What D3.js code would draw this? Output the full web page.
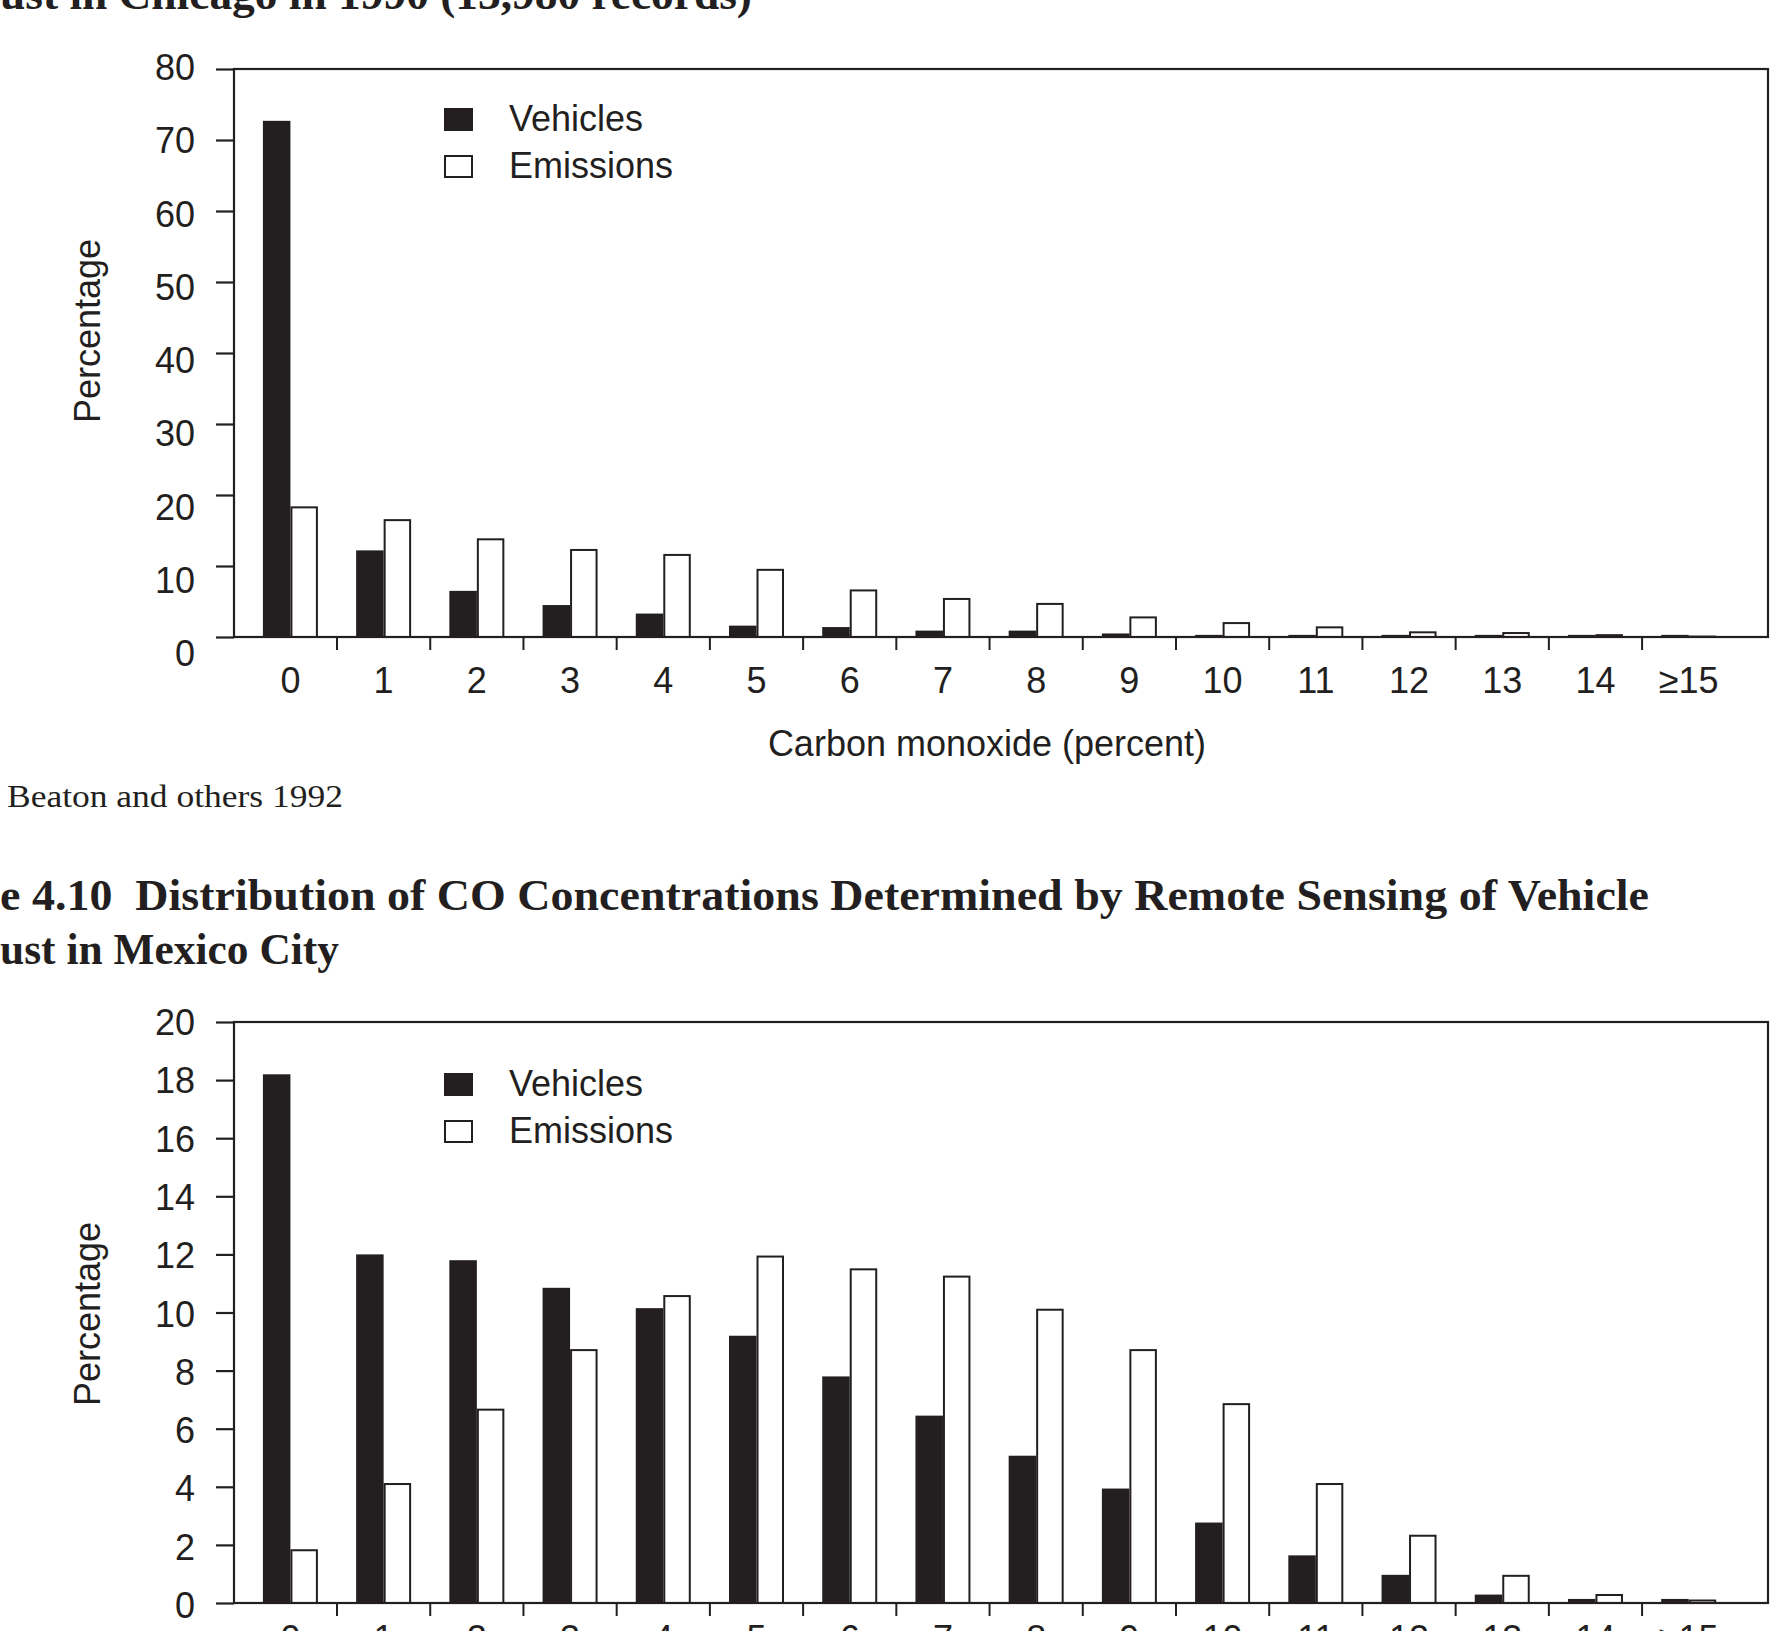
<!DOCTYPE html>
<html>
<head>
<meta charset="utf-8">
<script src="https://cdn.jsdelivr.net/npm/d3@7"></script>
<style>
  body { margin: 0; background: #fff; }
  text { fill: #231f20; }
</style>
</head>
<body>
<div id="chart"></div>
<script>
// categories on the x axis (CO percent)
var CATEGORIES = ['0', '1', '2', '3', '4', '5', '6', '7', '8', '9', '10',
                  '11', '12', '13', '14', '\u226515'];
var SERIES = ['Vehicles', 'Emissions'];

// Chicago 1990
var CHICAGO_VEHICLES  = [72.7, 12.2, 6.5, 4.5, 3.3, 1.6, 1.4, 0.9, 0.9, 0.5, 0.3, 0.3, 0.3, 0.3, 0.3, 0.3];
var CHICAGO_EMISSIONS = [18.4, 16.6, 13.9, 12.4, 11.7, 9.6, 6.7, 5.5, 4.8, 2.9, 2.1, 1.5, 0.8, 0.7, 0.4, 0.2];
var CHICAGO_TICKS = [0, 10, 20, 30, 40, 50, 60, 70, 80];

// Mexico City
var MEXICO_VEHICLES  = [18.2, 12.0, 11.8, 10.85, 10.15, 9.2, 7.8, 6.45, 5.07, 3.94, 2.77, 1.64, 0.97, 0.29, 0.14, 0.14];
var MEXICO_EMISSIONS = [1.85, 4.13, 6.69, 8.74, 10.6, 11.96, 11.52, 11.27, 10.13, 8.74, 6.88, 4.13, 2.35, 0.97, 0.31, 0.12];
var MEXICO_TICKS = [0, 2, 4, 6, 8, 10, 12, 14, 16, 18, 20];

var WIDTH = 1775,
    HEIGHT = 1631;

var INK = '#231f20';
var SANS = '"Liberation Sans", Arial, Helvetica, sans-serif';
var SERIF = '"Liberation Serif", "Times New Roman", serif';

var svg = d3.select('#chart').append('svg')
            .attr('width', WIDTH)
            .attr('height', HEIGHT)
            .style('display', 'block');

svg.append('rect').attr('width', WIDTH).attr('height', HEIGHT).attr('fill', '#fff');

// shared horizontal layout for both panels
var BOX_LEFT = 234, BOX_RIGHT = 1768;
var xScale = d3.scaleBand().domain(CATEGORIES).range([243.8, 1735.3]).paddingInner(0);
var bw = xScale.bandwidth();
var xInner = d3.scaleBand().domain(SERIES).range([(bw - 55) / 2, (bw + 55) / 2]);

function drawPanel(opts) {
  var g = svg.append('g');
  var y = d3.scaleLinear().domain([0, opts.max]).range([opts.bottom, opts.top]);
  // the printed labels sit a little off the ticks in the source
  var yLab = d3.scaleLinear().domain([0, opts.max]).range(opts.labelRange);

  var rows = CATEGORIES.map((c, i) => ({cat: c, Vehicles: opts.vehicles[i], Emissions: opts.emissions[i]}));

  // y ticks
  var yAxis = g.append('g')
               .attr('transform', `translate(${BOX_LEFT},0)`)
               .call(d3.axisLeft(y).tickValues(opts.ticks).tickSize(18).tickSizeOuter(0).tickFormat(''));
  yAxis.select('.domain').remove();
  yAxis.selectAll('line').attr('stroke', INK).attr('stroke-width', 2.2);

  g.selectAll('.ylab')
   .data(opts.ticks).enter()
   .append('text')
   .attr('class', 'ylab')
   .attr('x', 195)
   .attr('y', d => yLab(d) + 13)
   .attr('text-anchor', 'end')
   .style('font-family', SANS)
   .style('font-size', '36px')
   .text(d => d);

  // bars
  var groups = g.selectAll('.cat')
                .data(rows).enter()
                .append('g')
                .attr('class', 'cat')
                .attr('transform', d => `translate(${xScale(d.cat)},0)`);

  groups.append('rect')
        .attr('x', xInner('Vehicles'))
        .attr('y', d => y(d.Vehicles))
        .attr('width', xInner.bandwidth())
        .attr('height', d => y(0) - y(d.Vehicles))
        .attr('fill', INK);

  groups.append('rect')
        .attr('x', xInner('Emissions') + 1)
        .attr('y', d => y(d.Emissions) + 1)
        .attr('width', xInner.bandwidth() - 2)
        .attr('height', d => Math.max(0, y(0) - y(d.Emissions) - 1))
        .attr('fill', '#fff')
        .attr('stroke', INK)
        .attr('stroke-width', 2);

  // frame
  g.append('rect')
   .attr('x', BOX_LEFT)
   .attr('y', y(opts.max))
   .attr('width', BOX_RIGHT - BOX_LEFT)
   .attr('height', y(0) - y(opts.max))
   .attr('fill', 'none')
   .attr('stroke', INK)
   .attr('stroke-width', 2.2);

  // x ticks at the band edges
  g.selectAll('.xtick')
   .data(CATEGORIES.slice(1)).enter()
   .append('line')
   .attr('x1', d => xScale(d)).attr('x2', d => xScale(d))
   .attr('y1', y(0)).attr('y2', y(0) + 13)
   .attr('stroke', INK)
   .attr('stroke-width', 2);

  g.selectAll('.xlab')
   .data(CATEGORIES).enter()
   .append('text')
   .attr('x', d => xScale(d) + bw / 2)
   .attr('y', y(0) + opts.xLabelDy)
   .attr('text-anchor', 'middle')
   .style('font-family', SANS)
   .style('font-size', '36px')
   .text(d => d);

  g.append('text')
   .attr('transform', `translate(100,${opts.yTitleY}) rotate(-90)`)
   .attr('text-anchor', 'middle')
   .style('font-family', SANS)
   .style('font-size', '36px')
   .text('Percentage');

  if (opts.xTitle) {
    g.append('text')
     .attr('x', 987)
     .attr('y', y(0) + 119)
     .attr('text-anchor', 'middle')
     .style('font-family', SANS)
     .style('font-size', '36px')
     .text(opts.xTitle);
  }

  // legend
  var leg = g.selectAll('.leg')
             .data(SERIES).enter()
             .append('g')
             .attr('transform', (d, i) => `translate(0,${opts.legendBase + i * 47})`);
  leg.append('rect')
     .attr('x', d => d === 'Vehicles' ? 444 : 445)
     .attr('y', d => d === 'Vehicles' ? -23 : -22)
     .attr('width', d => d === 'Vehicles' ? 29 : 27)
     .attr('height', d => d === 'Vehicles' ? 23 : 21)
     .attr('fill', d => d === 'Vehicles' ? INK : '#fff')
     .attr('stroke', d => d === 'Vehicles' ? 'none' : INK)
     .attr('stroke-width', 2);
  leg.append('text')
     .attr('x', 509)
     .attr('y', 0)
     .style('font-family', SANS)
     .style('font-size', '36px')
     .text(d => d);
}

drawPanel({
  vehicles: CHICAGO_VEHICLES, emissions: CHICAGO_EMISSIONS, ticks: CHICAGO_TICKS,
  max: 80, top: 69, bottom: 637, labelRange: [653, 67],
  xLabelDy: 56, yTitleY: 331, legendBase: 131,
  xTitle: 'Carbon monoxide (percent)'
});

drawPanel({
  vehicles: MEXICO_VEHICLES, emissions: MEXICO_EMISSIONS, ticks: MEXICO_TICKS,
  max: 20, top: 1022, bottom: 1603, labelRange: [1605, 1022],
  xLabelDy: 48, yTitleY: 1314, legendBase: 1096
});

// page text around the figures (cut by the page crop)
function serifLine(str, x, y, len, size, weight) {
  svg.append('text')
     .attr('x', x).attr('y', y)
     .attr('textLength', len)
     .attr('lengthAdjust', 'spacingAndGlyphs')
     .style('white-space', 'pre')
     .style('font-family', SERIF)
     .style('font-size', size + 'px')
     .style('font-weight', weight)
     .text(str);
}

serifLine('ust in Chicago in 1990 (13,980 records)', 0, 9, 752, 45, 'bold');
serifLine('Beaton and others 1992', 7, 807, 336, 31, 'normal');
serifLine('e 4.10  Distribution of CO Concentrations Determined by Remote Sensing of Vehicle', 0, 910, 1649, 45, 'bold');
serifLine('ust in Mexico City', 0, 964, 339, 45, 'bold');
</script>
</body>
</html>
